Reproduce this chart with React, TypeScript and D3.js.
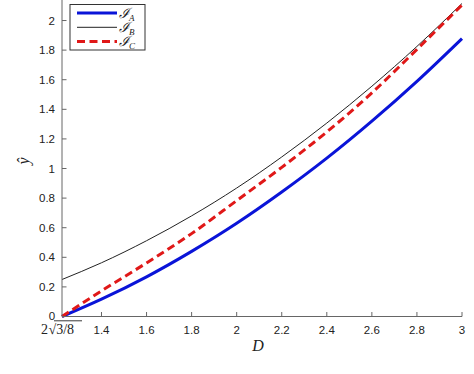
import React from "react";
import * as d3 from "d3";

const D0 = 2 * Math.sqrt(3 / 8);
const dValues = [D0, 1.4, 1.6, 1.8, 2.0, 2.2, 2.4, 2.6, 2.8, 3.0];
const seriesA = [0, 0.117, 0.268, 0.44, 0.63, 0.841, 1.07, 1.32, 1.589, 1.878];
const seriesB = [0.25, 0.363, 0.512, 0.68, 0.868, 1.078, 1.307, 1.556, 1.825, 2.115];
const seriesC = [0, 0.173, 0.362, 0.56, 0.783, 1.008, 1.247, 1.511, 1.805, 2.105];
const xTicks = [1.4, 1.6, 1.8, 2, 2.2, 2.4, 2.6, 2.8, 3];
const yTicks = [0, 0.2, 0.4, 0.6, 0.8, 1, 1.2, 1.4, 1.6, 1.8, 2];
const legendNames = ["A", "B", "C"];

const W = 474, H = 374;
const x = d3.scaleLinear().domain([D0, 3]).range([62, 462]);
const y = d3.scaleLinear().domain([0, 2.14]).range([316.5, -0.2]);

export default function App() {
  const line = d3
    .line<number>()
    .x((_, i) => x(dValues[i]))
    .y((v) => y(v))
    .curve(d3.curveMonotoneX);
  const series = [
    { vals: seriesA, color: "#0a14d8", width: 3, dash: undefined as string | undefined },
    { vals: seriesB, color: "#222", width: 1, dash: undefined },
    { vals: seriesC, color: "#e01818", width: 3, dash: "8,4.5" },
  ];
  const tickFont = "'Liberation Sans', Arial, sans-serif";
  const serif = "'Liberation Serif', 'Times New Roman', serif";
  const axisColor = "#666";
  return (
    <svg width={W} height={H} style={{ position: "absolute", left: 0, top: 0, background: "#fff" }}>
      {series.map((s, i) => (
        <path key={i} d={line(s.vals) || ""} fill="none" stroke={s.color} strokeWidth={s.width} strokeDasharray={s.dash} />
      ))}
      <line x1={62} x2={62} y1={0} y2={316.5} stroke={axisColor} strokeWidth={1} />
      <line x1={62} x2={462} y1={316.5} y2={316.5} stroke={axisColor} strokeWidth={1} />
      {xTicks.map((t) => (
        <g key={t}>
          <line x1={x(t)} x2={x(t)} y1={316.5} y2={312} stroke={axisColor} />
          <text x={x(t)} y={334} textAnchor="middle" fontFamily={tickFont} fontSize={11.5} fill="#222">
            {String(t)}
          </text>
        </g>
      ))}
      <g>
        <text x={41} y={334} textAnchor="start" fontFamily={serif} fontSize={14} fill="#222">
          2<tspan dx={0.5}>√</tspan><tspan dx={0}>3/8</tspan>
        </text>
        <line x1={54} x2={82} y1={320.8} y2={320.8} stroke="#222" strokeWidth={0.9} />
      </g>
      {yTicks.map((t) => (
        <g key={t}>
          <line x1={62} x2={66.5} y1={y(t)} y2={y(t)} stroke={axisColor} />
          {t !== 0 && (
            <text x={55} y={y(t) + 4} textAnchor="end" fontFamily={tickFont} fontSize={11.5} fill="#222">
              {String(t)}
            </text>
          )}
        </g>
      ))}
      <text x={52} y={320} textAnchor="middle" fontFamily={tickFont} fontSize={11.5} fill="#222">0</text>
      <text x={258} y={351} textAnchor="middle" fontFamily={serif} fontStyle="italic" fontSize={16} fill="#222">
        D
      </text>
      <text
        transform="translate(29,161) rotate(-90)"
        textAnchor="middle"
        fontFamily={serif}
        fontStyle="italic"
        fontSize={16}
        fill="#222"
      >
        ŷ
      </text>
      <rect x={70} y={4.5} width={75} height={45.5} fill="#fff" stroke="#333" strokeWidth={1} />
      {series.map((s, i) => (
        <g key={i}>
          <line x1={77} x2={117} y1={13 + i * 14.3} y2={13 + i * 14.3} stroke={s.color} strokeWidth={s.width} strokeDasharray={s.dash} />
          <text x={119} y={17.5 + i * 14.3} fontFamily={serif} fontStyle="italic" fontSize={14} fill="#222">
            ℐ
            <tspan fontSize={9} dy={3}>{legendNames[i]}</tspan>
          </text>
        </g>
      ))}
    </svg>
  );
}
